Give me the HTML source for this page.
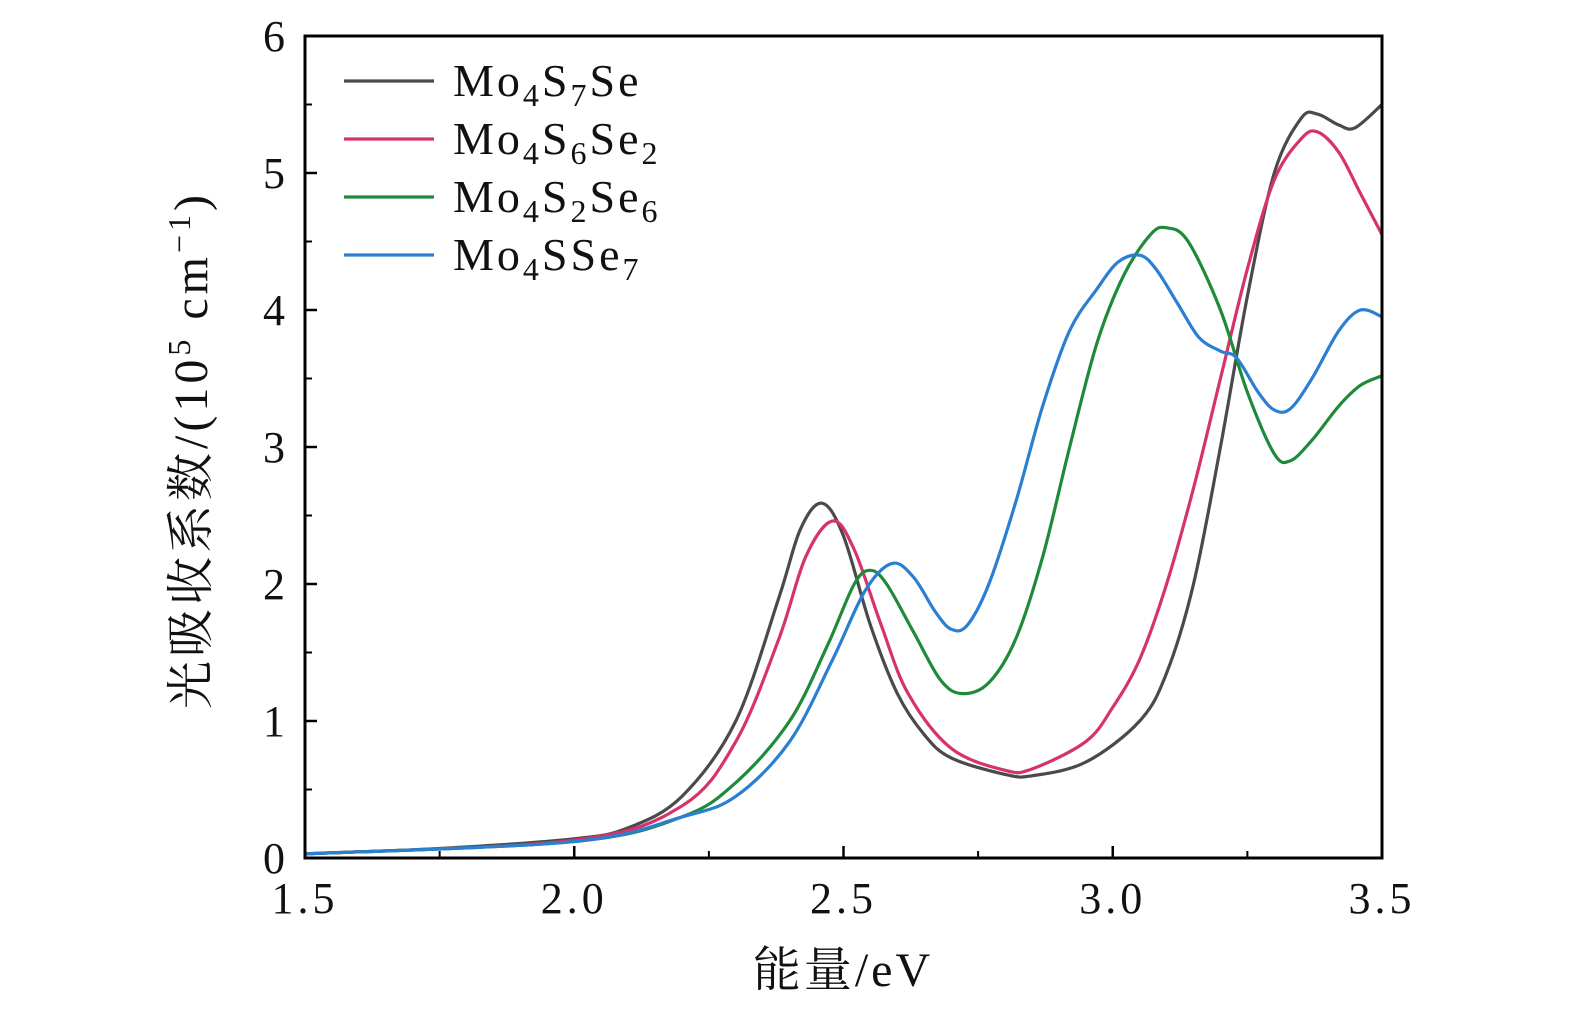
<!DOCTYPE html>
<html><head><meta charset="utf-8"><style>
body{margin:0;background:#fff}
svg text{font-family:"Liberation Serif","Noto Serif CJK SC",serif;fill:#111}
</style></head><body>
<svg id="chart" width="1575" height="1014" xmlns="http://www.w3.org/2000/svg">
<g id="grid-layer"></g>
<g id="series-layer"></g>
<g id="axis-layer"></g>
<g id="legend"></g>
<text x="843" y="986" font-size="48" letter-spacing="3" text-anchor="middle">能量/eV</text>
<text transform="translate(207,450) rotate(-90)" font-size="48" letter-spacing="4" text-anchor="middle">光吸收系数/(10<tspan font-size="32" dy="-17">5</tspan><tspan dy="17"> cm</tspan><tspan font-size="32" dy="-17">−1</tspan><tspan dy="17">)</tspan></text>
</svg>
<script>
const xTicks=[1.5,2.0,2.5,3.0,3.5];
const xTickLabels=["1.5","2.0","2.5","3.0","3.5"];
const yTicks=[0,1,2,3,4,5,6];
const yTickLabels=["0","1","2","3","4","5","6"];
const seriesNames=["Mo4S7Se","Mo4S6Se2","Mo4S2Se6","Mo4SSe7"];
const s1x=[1.5,1.75,2.0,2.1,2.2,2.3,2.38,2.42,2.46,2.5,2.55,2.6,2.65,2.7,2.8,2.85,2.95,3.05,3.1,3.15,3.2,3.25,3.3,3.35,3.38,3.42,3.45,3.5];
const s1y=[0.03,0.07,0.14,0.22,0.45,1.0,1.9,2.4,2.59,2.35,1.7,1.2,0.9,0.73,0.61,0.6,0.7,1.0,1.35,2.0,3.0,4.1,5.0,5.4,5.43,5.35,5.33,5.5];
const s2x=[1.5,2.0,2.2,2.3,2.38,2.43,2.48,2.52,2.57,2.62,2.7,2.8,2.85,2.95,3.0,3.05,3.1,3.15,3.2,3.25,3.3,3.35,3.38,3.42,3.46,3.5];
const s2y=[0.03,0.13,0.38,0.85,1.6,2.2,2.46,2.25,1.7,1.2,0.8,0.64,0.65,0.85,1.1,1.45,2.0,2.7,3.5,4.3,4.95,5.25,5.3,5.15,4.85,4.55];
const s3x=[1.5,2.0,2.2,2.3,2.4,2.47,2.52,2.55,2.58,2.63,2.68,2.72,2.77,2.82,2.87,2.92,2.97,3.02,3.07,3.1,3.14,3.2,3.25,3.3,3.33,3.37,3.42,3.46,3.5];
const s3y=[0.03,0.12,0.3,0.55,1.0,1.55,2.0,2.1,2.0,1.65,1.3,1.2,1.28,1.6,2.2,3.0,3.75,4.25,4.55,4.6,4.5,4.0,3.4,2.95,2.9,3.05,3.3,3.45,3.52];
const s4x=[1.5,2.0,2.2,2.3,2.4,2.48,2.54,2.59,2.63,2.67,2.7,2.73,2.77,2.82,2.87,2.92,2.97,3.01,3.05,3.08,3.12,3.16,3.2,3.23,3.27,3.3,3.33,3.37,3.42,3.46,3.5];
const s4y=[0.03,0.12,0.3,0.45,0.85,1.45,1.95,2.15,2.05,1.8,1.67,1.7,2.0,2.6,3.3,3.85,4.15,4.35,4.4,4.3,4.05,3.8,3.7,3.65,3.4,3.27,3.28,3.5,3.85,4.0,3.95];
const colors=["#4a4a4a","#d6336c","#1f8a3a","#2a7fd0"];
const NS="http://www.w3.org/2000/svg";
const L=305,R=1382,T=36,B=858;
const xs=v=>L+(v-1.5)/2*(R-L);
const ys=v=>B-v/6*(B-T);
function mk(tag,attrs,parent){const e=document.createElementNS(NS,tag);for(const k in attrs)e.setAttribute(k,attrs[k]);parent.appendChild(e);return e;}
function smooth(px,py){let d=`M${px[0]},${py[0]}`;for(let i=0;i<px.length-1;i++){const x0=px[Math.max(i-1,0)],y0=py[Math.max(i-1,0)],x1=px[i],y1=py[i],x2=px[i+1],y2=py[i+1],x3=px[Math.min(i+2,px.length-1)],y3=py[Math.min(i+2,px.length-1)];d+=` C${x1+(x2-x0)/6},${y1+(y2-y0)/6} ${x2-(x3-x1)/6},${y2-(y3-y1)/6} ${x2},${y2}`;}return d;}
const sl=document.getElementById('series-layer');
const allX=[s1x,s2x,s3x,s4x],allY=[s1y,s2y,s3y,s4y];
for(let k=0;k<4;k++){
 const p=mk('path',{d:smooth(allX[k].map(xs),allY[k].map(ys)),fill:'none',stroke:colors[k],'stroke-width':3.2},sl);
 
 
}
const ax=document.getElementById('axis-layer');
const fr=mk('rect',{x:L,y:T,width:R-L,height:B-T,fill:'none',stroke:'#000','stroke-width':3},ax);


for(let i=0;i<xTicks.length;i++){
 const x=xs(xTicks[i]);
 mk('line',{x1:x,x2:x,y1:B,y2:B-12,stroke:'#000','stroke-width':2.5},ax);
 const t=mk('text',{x:x,y:B+55,'font-size':44,'letter-spacing':4,'text-anchor':'middle'},ax);t.textContent=xTickLabels[i];
 
 
 if(i<xTicks.length-1){const m=xs(xTicks[i]+0.25);mk('line',{x1:m,x2:m,y1:B,y2:B-7,stroke:'#000','stroke-width':2},ax);}
}
for(let i=0;i<yTicks.length;i++){
 const y=ys(yTicks[i]);
 mk('line',{x1:L,x2:L+12,y1:y,y2:y,stroke:'#000','stroke-width':2.5},ax);
 const t=mk('text',{x:L-20,y:y+15,'font-size':44,'text-anchor':'end'},ax);t.textContent=yTickLabels[i];
 
 
 if(i<yTicks.length-1){const m=ys(yTicks[i]+0.5);mk('line',{x1:L,x2:L+7,y1:m,y2:m,stroke:'#000','stroke-width':2},ax);}
}
const lg=document.getElementById('legend');
const labels=[["Mo","4","S","7","Se",""],["Mo","4","S","6","Se","2"],["Mo","4","S","2","Se","6"],["Mo","4","S","","Se","7"]];
for(let k=0;k<4;k++){
 const y=81+k*58;
 const ln=mk('line',{x1:344,x2:434,y1:y,y2:y,stroke:colors[k],'stroke-width':3.2},lg);
 
 
 const t=mk('text',{x:453,y:y+15,'font-size':46,'letter-spacing':3},lg);
 
 
 const p=labels[k];
 let html=`${p[0]}<tspan font-size="32" dy="10">${p[1]}</tspan><tspan dy="-10">${p[2]}</tspan>`;
 if(p[3])html+=`<tspan font-size="32" dy="10">${p[3]}</tspan><tspan dy="-10">${p[4]}</tspan>`;else html+=`<tspan>${p[4]}</tspan>`;
 if(p[5])html+=`<tspan font-size="32" dy="10">${p[5]}</tspan>`;
 t.innerHTML=html;
}
</script>
</body></html>
